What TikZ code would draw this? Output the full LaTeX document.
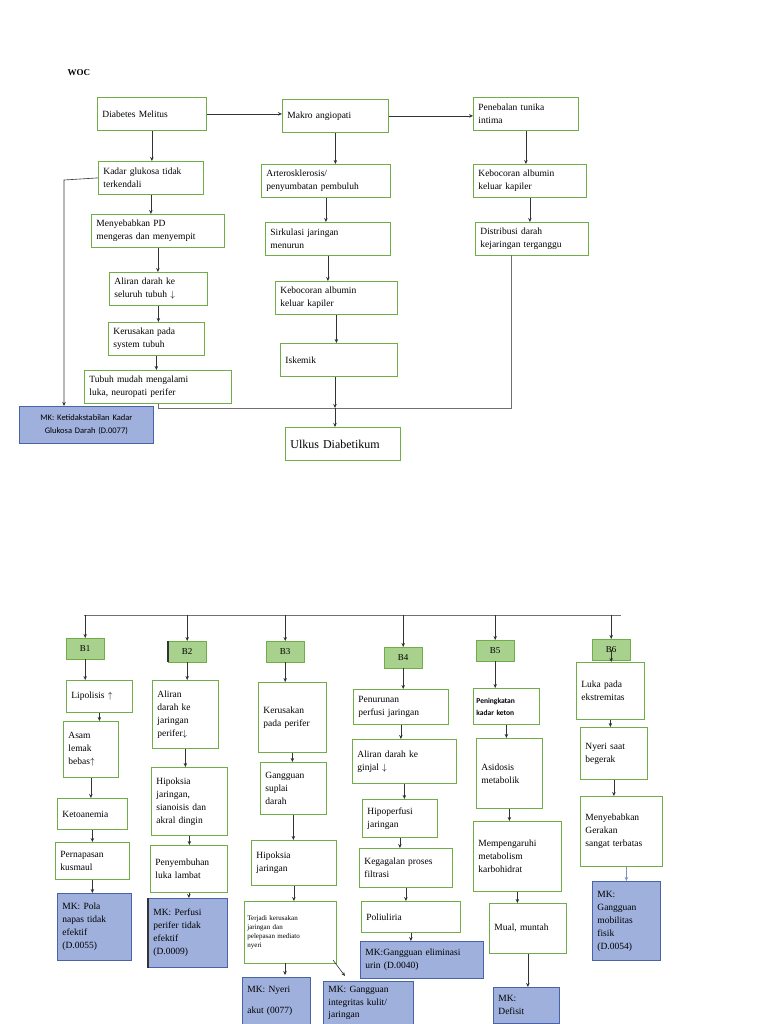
\documentclass[tikz,border=0pt]{standalone}
\usepackage{fontspec}
\setmainfont{Liberation Serif}
\newfontfamily\sansf{Carlito}
\usetikzlibrary{arrows.meta}
\definecolor{bg}{HTML}{70AD47}
\definecolor{bfill}{HTML}{A9D18E}
\definecolor{mfill}{HTML}{9FB0DC}
\definecolor{mline}{HTML}{4A63A8}
\definecolor{ln}{HTML}{333333}
\tikzset{
 box/.style n args={3}{draw=bg, line width=0.8pt, fill=white, anchor=north west, minimum width=#1, minimum height=#2, text width=#3, align=left, inner xsep=5pt, inner ysep=3pt, font=\fontsize{9.5}{13}\selectfont},
 mk/.style n args={3}{box={#1}{#2}{#3}, draw=mline, fill=mfill},
 bb/.style={draw=bg, fill=bfill, anchor=north west, minimum width=38, minimum height=21, inner sep=1pt, font=\fontsize{9}{10}\selectfont},
 arr/.style={draw=ln, line width=0.6pt, -{Stealth[length=4pt,width=3.5pt]}},
 ln/.style={draw=ln!70, line width=0.6pt},
}
\newcommand{\vlk}[2]{\draw[arr] (#1.south) -- (#1.south |- #2.north);}
\begin{document}
\begin{tikzpicture}[x=1pt,y=-1pt]
\useasboundingbox (0,0) rectangle (768,1024);
\clip (0,0) rectangle (768,1024);
\node[anchor=north west, font=\fontsize{9}{10}\selectfont\bfseries] (woc) at (64,66) {WOC};
% top
\node[box={109}{33}{99}] (dm) at (97,97) {Diabetes Melitus};
\node[box={106}{33}{96}] (ma) at (282,99) {Makro angiopati};
\node[box={105}{33}{95}] (pt) at (473,97) {Penebalan tunika\\intima};
\node[box={105}{33}{95}] (kg) at (98,161) {Kadar glukosa tidak\\terkendali};
\node[box={129}{33}{119}] (ar) at (261,164) {Arterosklerosis/\\penyumbatan pembuluh};
\node[box={113}{33}{103}] (kb1) at (473,164) {Kebocoran albumin\\keluar kapiler};
\node[box={133}{33}{123}] (mp) at (91,214) {Menyebabkan PD\\mengeras dan menyempit};
\node[box={125}{33}{115}] (sj) at (265,222) {Sirkulasi jaringan\\menurun};
\node[box={113}{33}{103}] (dd) at (475,222) {Distribusi darah\\kejaringan terganggu};
\node[box={98}{33}{88}] (ad) at (109,272) {Aliran darah ke\\seluruh tubuh $\downarrow$};
\node[box={122}{33}{112}] (kb2) at (275,281) {Kebocoran albumin\\keluar kapiler};
\node[box={96}{33}{86}] (ks) at (108,322) {Kerusakan pada\\system tubuh};
\node[box={117}{33}{107}] (isk) at (280,343) {Iskemik};
\node[box={147}{33}{137}] (tm) at (84,370) {Tubuh mudah mengalami\\luka, neuropati perifer};
\node[mk={130}{37}{124}, align=center, font=\sansf\fontsize{8.5}{13}\selectfont] (mk1) at (19,406) {MK: Ketidakstabilan Kadar\\Glukosa Darah (D.0077)};
\node[box={115}{33}{105}, font=\fontsize{12}{14}\selectfont] (uk) at (285,427) {Ulkus Diabetikum};
\draw[arr] (dm.east) -- (dm.east -| ma.west);
\draw[arr] (ma.east) -- (ma.east -| pt.west);
\vlk{dm}{kg}\vlk{kg}{mp}\vlk{mp}{ad}\vlk{ad}{ks}\vlk{ks}{tm}
\coordinate (kl) at (64,180);
\draw[arr] (kg.west) -- (kl) -- (kl |- mk1.north);
\vlk{ma}{ar}\vlk{ar}{sj}\vlk{sj}{kb2}\vlk{kb2}{isk}
\coordinate (mj) at (335,408);
\draw[ln] (tm.south) -- (tm.south |- mj) -- (511,408) -- (511,255);
\draw[arr] (mj |- isk.south) -- (mj);
\draw[arr] (mj) -- (mj |- uk.north);
\vlk{pt}{kb1}\vlk{kb1}{dd}
% bottom
\node[bb] (b1) at (66,638) {B1};
\node[bb] (b2) at (168,641) {B2};
\draw[line width=1.6pt, black!80] (b2.north west) -- (b2.south west);
\node[bb] (b3) at (266,641) {B3};
\node[bb] (b4) at (384,647) {B4};
\node[bb] (b5) at (476,640) {B5};
\node[bb] (b6) at (592,639) {B6};
\coordinate (tl) at (84,615);
\coordinate (tr) at (621,615);
\draw[ln] (tl) -- (tr);
\foreach \b in {b1,b2,b3,b4,b5,b6}{\draw[arr] (tl -| \b.north) -- (\b.north);}
% col1
\node[box={66}{32}{56}] (lp) at (66,680) {Lipolisis $\uparrow$};
\node[box={53}{56}{45}] (al) at (63,721) {Asam\\lemak\\bebas$\uparrow$};
\node[box={70}{31}{60}] (ke) at (57,798) {Ketoanemia};
\node[box={74}{37}{64}] (pk) at (55,842) {Pernapasan\\kusmaul};
\node[mk={74}{67}{64}] (m1) at (57,893) {MK: Pola\\napas tidak\\efektif\\(D.0055)};
\vlk{b1}{lp}\vlk{lp}{al}\vlk{al}{ke}\vlk{ke}{pk}\vlk{pk}{m1}
% col2
\node[box={66}{68}{56}] (a2) at (152,680) {Aliran\\darah ke\\jaringan\\perifer$\downarrow$};
\node[box={74}{68}{66}] (h2) at (151,767) {Hipoksia\\jaringan,\\sianoisis dan\\akral dingin};
\node[box={77}{47}{67}] (p2) at (150,845) {Penyembuhan\\luka lambat};
\node[mk={79}{69}{69}] (m2) at (148,898) {MK: Perfusi\\perifer tidak\\efektif\\(D.0009)};
\draw[line width=1.6pt, black!80] (m2.north west) -- (m2.south west);
\vlk{b2}{a2}\vlk{a2}{h2}\vlk{h2}{p2}\vlk{p2}{m2}
% col3
\node[box={66}{70}{58}] (k3) at (258,682) {Kerusakan\\pada perifer};
\node[box={66}{52}{56}] (g3) at (260,762) {Gangguan\\suplai\\darah};
\node[box={85}{45}{75}] (h3) at (251,840) {Hipoksia\\jaringan};
\node[box={92}{62}{86}, inner xsep=3pt, font=\fontsize{7}{9}\selectfont] (t3) at (244,901) {Terjadi kerusakan\\jaringan dan\\pelepasan mediato\\nyeri};
\node[mk={66}{47}{58}] (mn) at (242,977) {\vspace{8pt}MK: Nyeri\\akut (0077)};
\node[mk={90}{43}{80}, inner ysep=1pt, font=\fontsize{9.5}{12.5}\selectfont] (mi) at (323,981) {MK: Gangguan\\integritas kulit/\\jaringan};
\vlk{b3}{k3}\vlk{k3}{g3}\vlk{g3}{h3}\vlk{h3}{t3}
\draw[arr] (285,963) -- (285,975);
\draw[arr] (333,960) -- (345,976);
% col4
\node[box={93}{35}{85}] (p4) at (353,689) {Penurunan\\perfusi jaringan};
\node[box={104}{44}{94}] (a4) at (352,739) {Aliran darah ke\\ginjal $\downarrow$};
\node[box={75}{38}{65}] (hp) at (362,799) {Hipoperfusi\\jaringan};
\node[box={91}{39}{83}] (kf) at (359,848) {Kegagalan proses\\filtrasi};
\node[box={99}{31}{89}] (po) at (361,901) {Poliuliria};
\node[mk={123}{37}{113}] (m4) at (360,941) {MK:Gangguan eliminasi\\urin (D.0040)};
\vlk{b4}{p4}\vlk{p4}{a4}\vlk{a4}{hp}\vlk{hp}{kf}\vlk{kf}{po}\vlk{po}{m4}
% col5
\node[box={66}{36}{60}, inner xsep=3pt, font=\sansf\bfseries\fontsize{7.5}{12}\selectfont] (k5) at (473,688) {Peningkatan\\kadar keton};
\node[box={66}{70}{56}] (as) at (476,738) {Asidosis\\metabolik};
\node[box={86}{70}{78}] (mm) at (473,821) {Mempengaruhi\\metabolism\\karbohidrat};
\node[box={75}{50}{67}] (mu) at (489,903) {Mual, muntah};
\node[mk={66}{36}{56}, inner ysep=1pt] (m5) at (493,987) {MK:\\Defisit};
\vlk{b5}{k5}\vlk{k5}{as}\vlk{as}{mm}\vlk{mm}{mu}\vlk{mu}{m5}
% col6
\node[box={66}{57}{58}] (lu) at (576,662) {Luka pada\\ekstremitas};
\node[box={65}{52}{57}] (ny) at (580,727) {Nyeri saat\\begerak};
\node[box={80}{70}{72}] (mg) at (580,796) {Menyebabkan\\Gerakan\\sangat terbatas};
\node[mk={66}{79}{58}] (m6) at (592,881) {MK:\\Gangguan\\mobilitas\\fisik\\(D.0054)};
\draw[arr] (b6.center) -- (b6.center |- lu.north);
\vlk{lu}{ny}\vlk{ny}{mg}
\draw[arr, draw=mline!70] (mg.south -| m6.north) -- (m6.north);
\end{tikzpicture}
\end{document}
